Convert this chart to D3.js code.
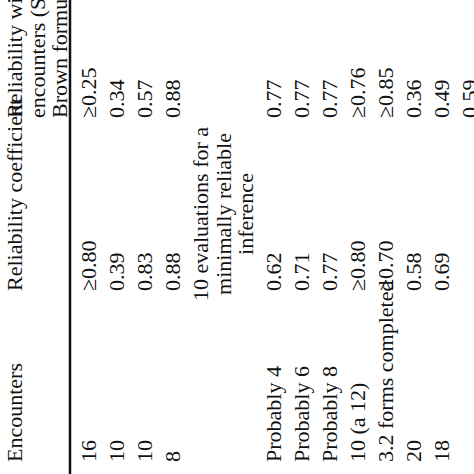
<!DOCTYPE html>
<html>
<head>
<meta charset="utf-8">
<script src="https://cdn.jsdelivr.net/npm/d3@7"></script>
<style>
body { margin: 0; background: #fff; }
svg { display: block; }
</style>
</head>
<body>
<script>
// Table is printed rotated 90 degrees (reads bottom to top)
const headers = ["Encounters", "Reliability coefficient", "Reliability with|encounters (Spearman–|Brown formula)"];
const encounters = ["16", "10", "10", "8", "", "Probably 4", "Probably 6", "Probably 8", "10 (a 12)", "3.2 forms completed", "20", "18", ""];
const reliability = ["≥0.80", "0.39", "0.83", "0.88", "10 evaluations for a|minimally reliable|inference", "0.62", "0.71", "0.77", "≥0.80", "≥0.70", "0.58", "0.69", ""];
const spearmanBrown = ["≥0.25", "0.34", "0.57", "0.88", "", "0.77", "0.77", "0.77", "≥0.76", "≥0.85", "0.36", "0.49", "0.59"];

const W = 474, H = 474;
const fontSize = 22;

const svg = d3.select("body").append("svg")
    .attr("width", W)
    .attr("height", H);

// rotated frame: a runs along the text, b across the rows
const g = svg.append("g")
    .attr("transform", "translate(0," + H + ") rotate(-90)")
    .style("font-family", "'Liberation Serif', 'DejaVu Serif', serif")
    .style("font-size", fontSize + "px")
    .attr("fill", "#111");

// column start positions along the text direction
const colX = d3.scaleOrdinal().domain([0, 1, 2]).range([12, 183, 356]);

// header block
headers.forEach((h, c) => {
    h.split("|").forEach((line, k) => {
        g.append("text")
            .attr("x", colX(c))
            .attr("y", 22 + k * 22.5)
            .text(line);
    });
});

// thick rule under the header
g.append("line")
    .attr("x1", 0).attr("x2", W)
    .attr("y1", 70).attr("y2", 70)
    .attr("stroke", "#111")
    .attr("stroke-width", 2.5);

// row positions: single rows step 28, wrapped lines step 22.5
const rowY = [];
let y = 96;
reliability.forEach((r, i) => {
    const n = Math.max(r.split("|").length, 1);
    rowY.push(y);
    y += 28 + (n - 1) * 22.5;
});
const yScale = d3.scaleOrdinal().domain(d3.range(rowY.length)).range(rowY);

const cols = [encounters, reliability, spearmanBrown];
cols.forEach((col, c) => {
    col.forEach((val, i) => {
        const lines = val.split("|");
        const multi = lines.length > 1;
        lines.forEach((line, k) => {
            g.append("text")
                .attr("x", multi ? colX(c) + 77 : colX(c))
                .attr("y", yScale(i) + k * 22.5)
                .attr("text-anchor", multi ? "middle" : "start")
                .text(line);
        });
    });
});
</script>
</body>
</html>
